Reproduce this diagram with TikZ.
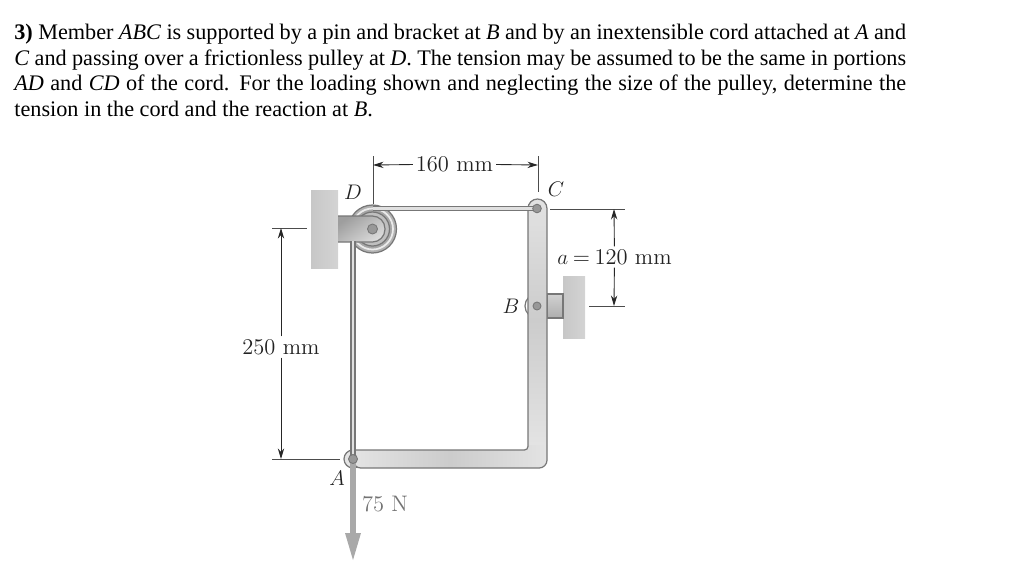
\documentclass[tikz,border=0pt]{standalone}
\usepackage{fontspec}
\usetikzlibrary{arrows.meta}
\newfontfamily\bodyfont{Liberation Serif}
\definecolor{steelline}{HTML}{777777}
\definecolor{steelfill}{HTML}{E4E4E4}
\definecolor{steeldark}{HTML}{CCCCCC}
\definecolor{wallfill}{HTML}{CFCFCF}
\definecolor{pinfill}{HTML}{989898}
\definecolor{labelgray}{HTML}{222222}
\definecolor{loadgray}{HTML}{A9A9A9}
\def\memberpath{[rounded corners=5.4pt] (528, 300) -- (528, 199) -- (547, 199) [rounded corners=4.5pt] -- (547, 468) -- (353, 468) [sharp corners] -- (353, 450) [rounded corners=2pt] -- (528, 450) [sharp corners] -- cycle}
\tikzset{
	bodyline/.style={anchor=base west, inner sep=0pt, font=\bodyfont\fontsize{12.65}{14}\selectfont},
	figlabel/.style={inner sep=1.5pt, text=labelgray, font=\fontsize{12.8}{14}\selectfont},
	dimline/.style={draw=black!85, line width=0.5pt, >={Stealth[length=6pt, width=3.6pt]}},
	extline/.style={draw=black!70, line width=0.5pt},
	cord/.style={draw=steelline, line width=0.6pt, double=black!12, double distance=1.7pt},
	wall/.style={left color=black!22, right color=black!17},
	steel/.style={draw=steelline, line width=0.7pt, fill=steelfill},
	pin/.style={draw=steelline, line width=0.5pt, fill=pinfill}
}
\begin{document}
\begin{tikzpicture}[x=0.02cm, y=-0.02cm]
	\useasboundingbox (0, 0) rectangle (1024, 576);

	\node[bodyline] (l1) at (14, 39) {\makebox[17.84cm][s]{\textbf{3)} Member \textit{ABC} is supported by a pin and bracket at \textit{B} and by an inextensible cord attached at \textit{A} and}};
	\node[bodyline] (l2) at (14, 65) {\makebox[17.84cm][s]{\textit{C} and passing over a frictionless pulley at \textit{D}. The tension may be assumed to be the same in portions}};
	\node[bodyline] (l3) at (14, 90) {\makebox[17.84cm][s]{\textit{AD} and \textit{CD} of the cord. For the loading shown and neglecting the size of the pulley, determine the}};
	\node[bodyline] (l4) at (14, 116) {tension in the cord and the reaction at \textit{B}.};

	\coordinate (A) at (353, 459);
	\coordinate (B) at (537, 306);
	\coordinate (C) at (537, 208.5);
	\coordinate (D) at (372.5, 229);

	\path[wall] (311, 190) rectangle (338, 268);
	\path[wall] (563, 276) rectangle (585, 338);

	\draw[steel, fill=black!30] (D) circle (24);
	\draw[draw=black!8, line width=1pt, fill=black!35] (D) circle (20.5);
	\draw[steel, fill=black!25] (D) circle (17);
	\draw[steel, shading=axis, left color=black!38, right color=black!14, shading angle=35, rounded corners=7.2pt] (338, 216) -- (385, 216) -- (385, 242) -- (338, 242);
	\draw[pin] (D) circle (5);

	\draw[steel, fill=white] (B) circle (12);
	\draw[steel, top color=black!18, bottom color=black!32] (547, 294) rectangle (563, 318);
	\draw[steel] (A) circle (9);
	\begin{scope}
		\clip \memberpath;
		\shade[top color=steelfill, middle color=black!8, bottom color=steeldark] (520, 190) rectangle (550, 320);
		\shade[top color=steeldark, bottom color=steelfill] (520, 320) rectangle (550, 450);
		\shade[left color=steelfill, right color=steeldark] (350, 445) rectangle (450, 470);
		\shade[left color=steeldark, right color=steelfill] (450, 445) rectangle (550, 470);
	\end{scope}
	\draw[draw=steelline, line width=0.7pt] \memberpath;

	\coordinate (d1) at (372.5, 208.5);
	\coordinate (d2) at (353, 241);
	\draw[cord] (d1) -- (C);
	\draw[cord] (d2) -- (A);
	\draw[pin] (C) circle (4.3);
	\draw[pin] (B) circle (4);

	\fill[loadgray] (350, 459) rectangle (356, 534);
	\fill[loadgray] (345, 533) -- (361, 533) -- (353, 560) -- cycle;
	\draw[pin] (A) circle (4.5);

	\node[figlabel] (lD) at (353, 192) {\large$D$};
	\node[figlabel] (lC) at (556, 189) {\large$C$};
	\node[figlabel] (lB) at (511, 306) {\large$B$};
	\node[figlabel] (lA) at (337, 478) {\large$A$};
	\node[figlabel, text=black!55] (l75) at (385, 504) {75 N};

	\node[figlabel] (w160) at (454.5, 164) {160 mm};
	\coordinate (e1) at (373, 156);
	\coordinate (e2) at (373, 204);
	\coordinate (e3) at (538, 156);
	\coordinate (e4) at (538, 192);
	\coordinate (a1) at (373, 165);
	\coordinate (a2) at (538, 165);
	\draw[extline] (e1) -- (e2);
	\draw[extline] (e3) -- (e4);
	\draw[dimline, ->] (w160) -- (a1);
	\draw[dimline, ->] (w160) -- (a2);

	\node[figlabel] (w120) at (614.5, 257) {$a$\hspace{2.6pt}=\hspace{2.6pt}120 mm};
	\coordinate (e5) at (550, 209);
	\coordinate (e6) at (625, 209);
	\coordinate (e7) at (589, 306);
	\coordinate (e8) at (625, 306);
	\coordinate (a3) at (614, 209);
	\coordinate (a4) at (614, 306);
	\draw[extline] (e5) -- (e6);
	\draw[extline] (e7) -- (e8);
	\draw[dimline, ->] (w120) -- (a3);
	\draw[dimline, ->] (w120) -- (a4);

	\node[figlabel] (w250) at (281, 347) {250 mm};
	\coordinate (e9) at (272, 228);
	\coordinate (e10) at (307, 228);
	\coordinate (e11) at (272, 459);
	\coordinate (e12) at (340, 459);
	\coordinate (a5) at (281, 228);
	\coordinate (a6) at (281, 459);
	\draw[extline] (e9) -- (e10);
	\draw[extline] (e11) -- (e12);
	\draw[dimline, ->] (w250) -- (a5);
	\draw[dimline, ->] (w250) -- (a6);
\end{tikzpicture}
\end{document}
